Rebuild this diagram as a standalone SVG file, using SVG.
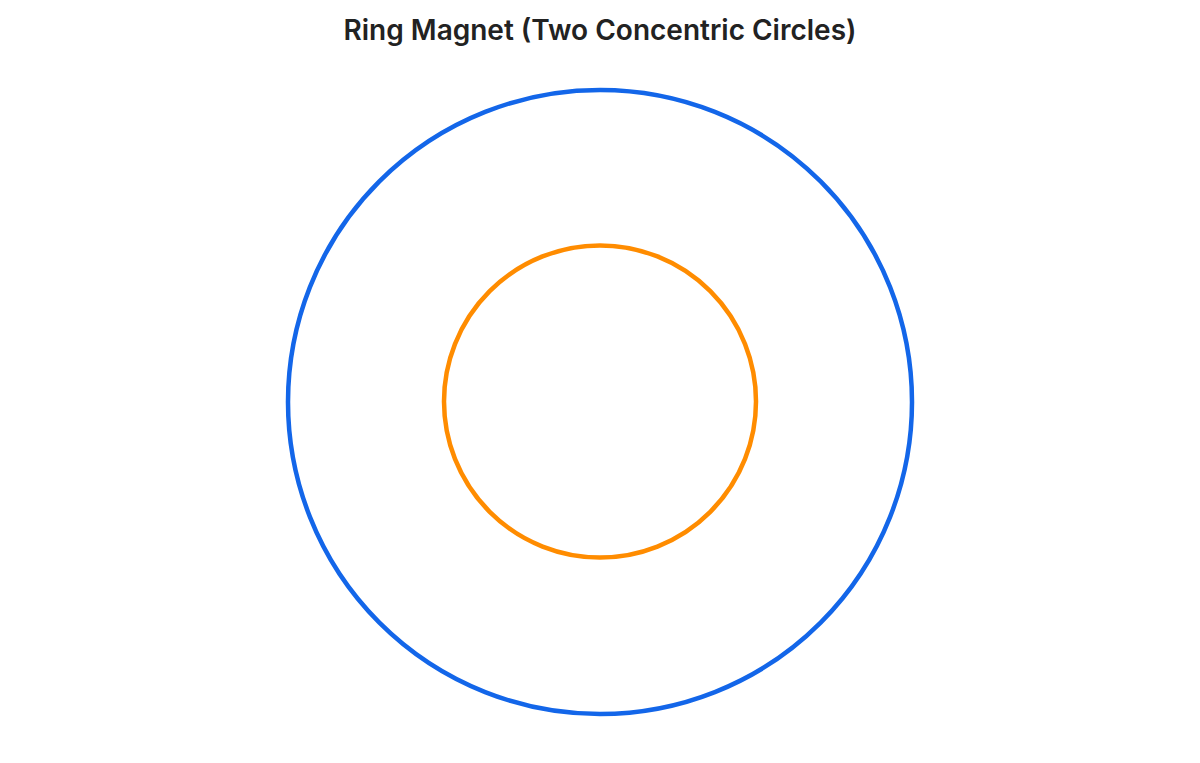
<svg xmlns="http://www.w3.org/2000/svg" width="1200" height="763" viewBox="0 0 1200 763">
<style>
.title{font-family:Inter,"Noto Sans",sans-serif;font-weight:600;font-size:28px;fill:#222222}
.ring{fill:none;stroke-width:4.5}
</style>
<rect width="1200" height="763" fill="#ffffff"/>
<text class="title" x="600" y="40" text-anchor="middle">Ring Magnet (Two Concentric Circles)</text>
<g id="outer"><circle class="ring" cx="600" cy="402" r="312" stroke="#1366E9"/></g>
<g id="inner"><circle class="ring" cx="600" cy="401.5" r="156" stroke="#FF8C00"/></g>
</svg>
